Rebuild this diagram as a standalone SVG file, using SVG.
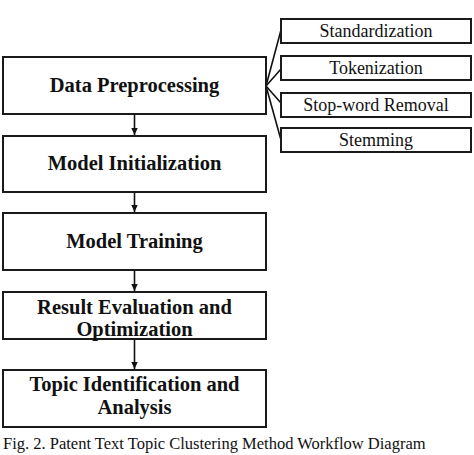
<svg xmlns="http://www.w3.org/2000/svg" width="474" height="455" viewBox="0 0 474 455">
<defs>
<style>
.box{fill:#fff;stroke:#1a1a1a;stroke-width:2}
.sub{fill:#fff;stroke:#1a1a1a;stroke-width:2}
.t{font-family:"Liberation Serif","Times New Roman",serif;font-weight:bold;font-size:20.5px;fill:#111;text-anchor:middle}
.s{font-family:"Liberation Serif","Times New Roman",serif;font-size:18px;fill:#111;text-anchor:middle}
.cap{font-family:"Liberation Serif","Times New Roman",serif;font-size:16.5px;fill:#111}
.ln{stroke:#111;stroke-width:1.6;fill:none}
</style>
<marker id="ah" markerWidth="8" markerHeight="8" refX="7" refY="4" orient="auto" markerUnits="userSpaceOnUse">
<path d="M0,0.8 L7,4 L0,7.2 Z" fill="#111"/>
</marker>
</defs>
<rect width="474" height="455" fill="#fff"/>
<g id="connectors">
<line class="ln" x1="134.5" y1="114" x2="134.5" y2="135" marker-end="url(#ah)"/>
<line class="ln" x1="134.5" y1="192" x2="134.5" y2="212" marker-end="url(#ah)"/>
<line class="ln" x1="134.5" y1="270" x2="134.5" y2="291" marker-end="url(#ah)"/>
<line class="ln" x1="134.5" y1="339" x2="134.5" y2="369" marker-end="url(#ah)"/>
<line class="ln" x1="266" y1="86" x2="281" y2="30"/>
<line class="ln" x1="266" y1="86" x2="281" y2="69"/>
<line class="ln" x1="266" y1="86" x2="281" y2="103"/>
<line class="ln" x1="266" y1="86" x2="281" y2="140"/>
</g>
<g id="n1"><rect class="box" x="3" y="57" width="263" height="57"/><text class="t" x="134.5" y="92">Data Preprocessing</text></g>
<g id="n2"><rect class="box" x="3" y="136" width="263" height="56"/><text class="t" x="134.5" y="170">Model Initialization</text></g>
<g id="n3"><rect class="box" x="3" y="213" width="263" height="57"/><text class="t" x="134.5" y="248">Model Training</text></g>
<g id="n4"><rect class="box" x="3" y="292" width="263" height="47"/><text class="t" x="134.5" y="314">Result Evaluation and</text><text class="t" x="134.5" y="336">Optimization</text></g>
<g id="n5"><rect class="box" x="3" y="370" width="263" height="57"/><text class="t" x="134.5" y="391">Topic Identification and</text><text class="t" x="134.5" y="414">Analysis</text></g>
<g id="s1"><rect class="sub" x="281" y="19" width="190" height="24"/><text class="s" x="376" y="37">Standardization</text></g>
<g id="s2"><rect class="sub" x="281" y="56" width="190" height="24"/><text class="s" x="376" y="74">Tokenization</text></g>
<g id="s3"><rect class="sub" x="281" y="93" width="190" height="24"/><text class="s" x="376" y="111">Stop-word Removal</text></g>
<g id="s4"><rect class="sub" x="281" y="128" width="190" height="24"/><text class="s" x="376" y="146">Stemming</text></g>
<text class="cap" x="3" y="449">Fig. 2. Patent Text Topic Clustering Method Workflow Diagram</text>
</svg>
